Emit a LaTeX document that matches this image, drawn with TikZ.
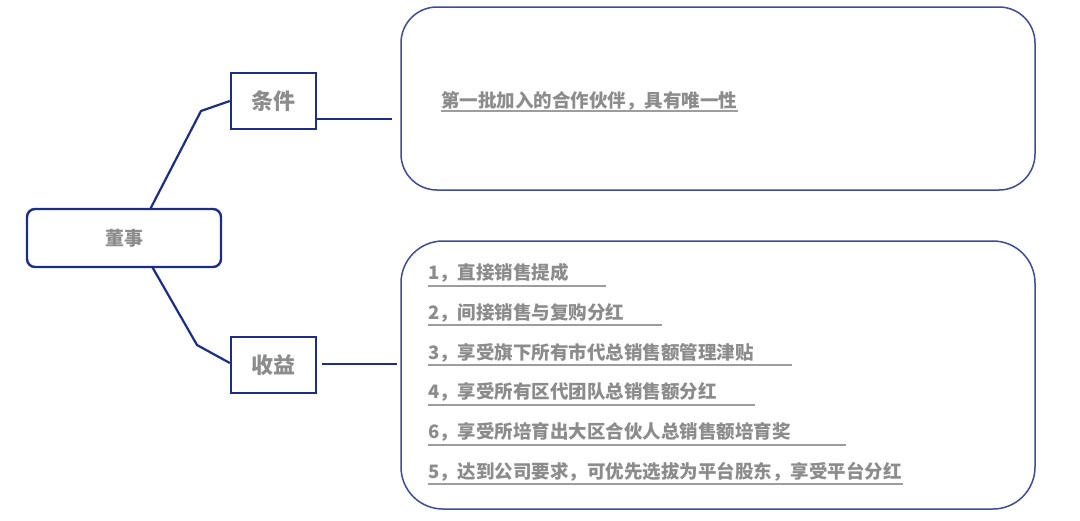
\documentclass[tikz,border=0pt]{standalone}
\usepackage{fontspec}
\newfontfamily\cjk{Noto Sans CJK SC}
\definecolor{navy}{RGB}{28,45,135}
\definecolor{txt}{RGB}{140,140,140}
\begin{document}
\begin{tikzpicture}[x=1pt,y=-1pt,
  link/.style={draw=navy,line width=2.2pt},
  topic/.style={draw=navy,line width=2.4pt,minimum width=85pt,minimum height=56pt,inner sep=0pt,font=\cjk\bfseries\fontsize{22}{22}\selectfont,text=txt},
  rootbox/.style={draw=navy,line width=2.4pt,rounded corners=8pt,minimum width=194pt,minimum height=58pt,inner sep=0pt,font=\cjk\bfseries\fontsize{19}{19}\selectfont,text=txt},
  panel/.style={draw=navy!85,line width=1.5pt,inner sep=0pt},
  item/.style={anchor=base west,inner sep=0pt,font=\cjk\bfseries\fontsize{18.5}{18.5}\selectfont,text=txt},
  uline/.style={draw=txt!85,line width=2pt}]
\useasboundingbox (0,0) rectangle (1080,520);
\fill[white] (0,0) rectangle (1080,520);
\node[rootbox] (root) at (124,238) {董事};
\node[topic] (cond) at (273.5,101) {条件};
\node[topic] (gain) at (273.5,365) {收益};
\coordinate (k1) at (201,111);
\coordinate (k2) at (197,345);
\draw[link] (150,209.5) -- (k1) -- (cond.west |- 101,101);
\draw[link] (152,266.5) -- (k2) -- (gain.west |- 363,363);
\draw[panel,rounded corners=36pt] (401,7) rectangle (1035,190);
\draw[panel,rounded corners=42pt] (401,241) rectangle (1035,509);
\coordinate (p1) at (392,119);
\coordinate (p2) at (397,364);
\draw[link] (cond.east |- 0,119) -- (p1);
\draw[link] (gain.east |- 0,364) ++(5,0) -- (p2);
\node[item] (t0) at (441,107) {第一批加入的合作伙伴，具有唯一性};
\draw[uline] (441,111) -- (738,111);
\node[item] (a1) at (428,279) {1，直接销售提成};
\node[item] (a2) at (428,319) {2，间接销售与复购分红};
\node[item] (a3) at (428,359) {3，享受旗下所有市代总销售额管理津贴};
\node[item] (a4) at (428,398.5) {4，享受所有区代团队总销售额分红};
\node[item] (a5) at (428,438.5) {6，享受所培育出大区合伙人总销售额培育奖};
\node[item] (a6) at (428,478.5) {5，达到公司要求，可优先选拔为平台股东，享受平台分红};
\draw[uline] (a1.west |- 0,285.5) -- (606,285.5);
\draw[uline] (a2.west |- 0,325) -- (662,325);
\draw[uline] (a3.west |- 0,365) -- (792,365);
\draw[uline] (a4.west |- 0,405) -- (755,405);
\draw[uline] (a5.west |- 0,444.5) -- (846,444.5);
\draw[uline] (a6.west |- 0,484) -- (903,484);
\end{tikzpicture}
\end{document}
